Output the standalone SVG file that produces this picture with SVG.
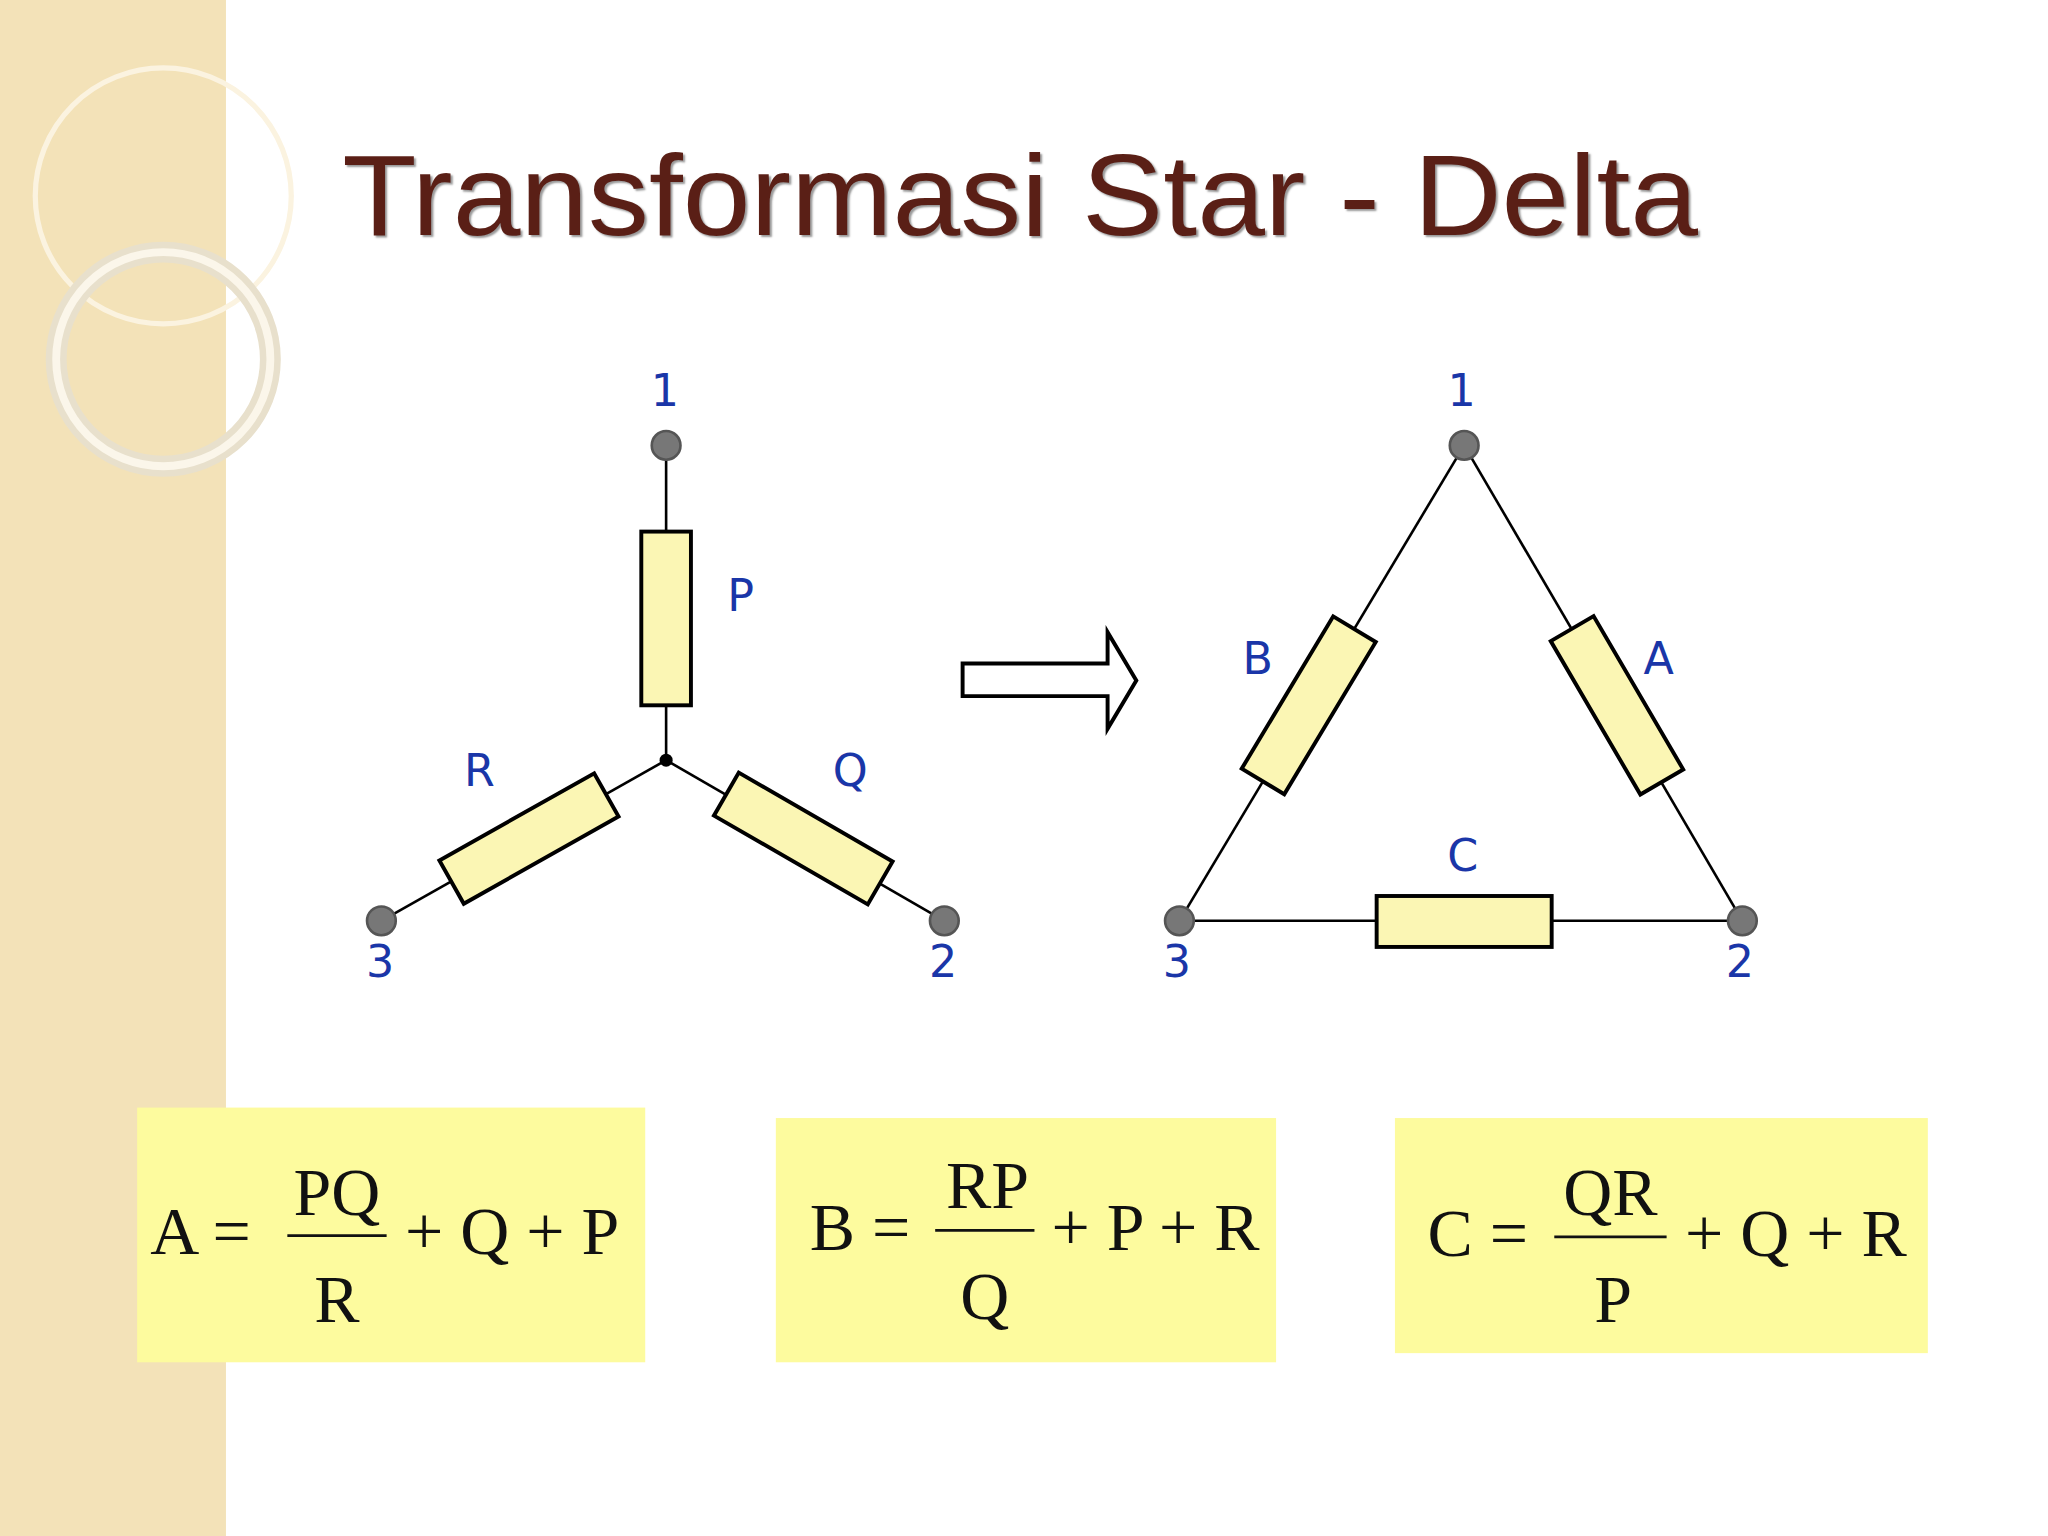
<svg xmlns="http://www.w3.org/2000/svg" width="2048" height="1536" viewBox="0 0 2048 1536">
<style>
.w{stroke:#000;stroke-width:2;fill:none}
.res{fill:#fbf6b4;stroke:#000;stroke-width:3}
.nd{fill:#777;stroke:#555;stroke-width:2}
.lb{font-family:"DejaVu Sans",sans-serif;font-size:34px;fill:#1a36a8;text-anchor:middle}
.eq{font-family:"Liberation Serif",serif;font-size:52px;fill:#111}
.box{fill:#fdfb9e}
</style>
<rect width="2048" height="1536" fill="#fff"/>
<g transform="scale(1.30612)">
<g id="sidebar">
<rect x="0" y="0" width="173" height="1176" fill="#f3e2b8"/>
<circle cx="125" cy="150" r="98" fill="none" stroke="#fbf3e0" stroke-width="4"/>
<circle cx="125" cy="275" r="82" fill="none" stroke="#e8e0cc" stroke-width="16"/>
<circle cx="125" cy="275" r="82" fill="none" stroke="#fbf6ea" stroke-width="6"/>
</g>
<text id="title" x="262" y="180" textLength="1038" lengthAdjust="spacingAndGlyphs" font-family="Liberation Sans,Arial,sans-serif" font-size="88" fill="#5a1f16" style="text-shadow:2px 2px 2px #999">Transformasi Star - Delta</text>
<g id="connectors">
<line class="w" x1="510" y1="341" x2="510" y2="582"/>
<line class="w" x1="510" y1="582" x2="292" y2="705"/>
<line class="w" x1="510" y1="582" x2="723" y2="705"/>
<line class="w" x1="1121" y1="341" x2="903" y2="705"/>
<line class="w" x1="1121" y1="341" x2="1334" y2="705"/>
<line class="w" x1="903" y1="705" x2="1334" y2="705"/>
<circle cx="510" cy="582" r="5" fill="#000"/>
</g>
<g id="resP"><rect class="res" x="491" y="407" width="38" height="133"/></g>
<g id="resR"><rect class="res" x="-68" y="-19" width="136" height="38" transform="translate(405,642) rotate(-29.4)"/></g>
<g id="resQ"><rect class="res" x="-68" y="-19" width="136" height="38" transform="translate(615,642) rotate(30)"/></g>
<g id="resB"><rect class="res" x="-68" y="-19" width="136" height="38" transform="translate(1002,540) rotate(-59)"/></g>
<g id="resA"><rect class="res" x="-68" y="-19" width="136" height="38" transform="translate(1238,540) rotate(59.7)"/></g>
<g id="resC"><rect class="res" x="1054" y="686" width="134" height="39"/></g>
<g id="nodes">
<circle class="nd" cx="510" cy="341" r="11"/><circle class="nd" cx="292" cy="705" r="11"/><circle class="nd" cx="723" cy="705" r="11"/>
<circle class="nd" cx="1121" cy="341" r="11"/><circle class="nd" cx="903" cy="705" r="11"/><circle class="nd" cx="1334" cy="705" r="11"/>
</g>
<g id="labels">
<text class="lb" x="509" y="311">1</text><text class="lb" x="567" y="468">P</text><text class="lb" x="367" y="602">R</text><text class="lb" x="651" y="602">Q</text><text class="lb" x="291" y="748">3</text><text class="lb" x="722" y="748">2</text>
<text class="lb" x="1119" y="311">1</text><text class="lb" x="963" y="516">B</text><text class="lb" x="1270" y="516">A</text><text class="lb" x="1120" y="667">C</text><text class="lb" x="901" y="748">3</text><text class="lb" x="1332" y="748">2</text>
</g>
<g id="arrow"><path d="M737 508 H848 V484 L870 521 L848 558 V533 H737 Z" fill="#fff" stroke="#000" stroke-width="3"/></g>
<g id="eqA">
<rect class="box" x="105" y="848" width="389" height="195"/>
<text class="eq" x="115" y="960">A =</text>
<text class="eq" x="258" y="930" text-anchor="middle">PQ</text>
<line x1="220" y1="946" x2="296" y2="946" stroke="#111" stroke-width="2"/>
<text class="eq" x="258" y="1012" text-anchor="middle">R</text>
<text class="eq" x="310" y="960">+ Q + P</text>
</g>
<g id="eqB">
<rect class="box" x="594" y="856" width="383" height="187"/>
<text class="eq" x="620" y="957">B =</text>
<text class="eq" x="756" y="925" text-anchor="middle">RP</text>
<line x1="716" y1="942" x2="792" y2="942" stroke="#111" stroke-width="2"/>
<text class="eq" x="754" y="1010" text-anchor="middle">Q</text>
<text class="eq" x="805" y="957">+ P + R</text>
</g>
<g id="eqC">
<rect class="box" x="1068" y="856" width="408" height="180"/>
<text class="eq" x="1093" y="962">C =</text>
<text class="eq" x="1233" y="930" text-anchor="middle">QR</text>
<line x1="1190" y1="947" x2="1276" y2="947" stroke="#111" stroke-width="2"/>
<text class="eq" x="1235" y="1012" text-anchor="middle">P</text>
<text class="eq" x="1290" y="962">+ Q + R</text>
</g>
</g>
</svg>
